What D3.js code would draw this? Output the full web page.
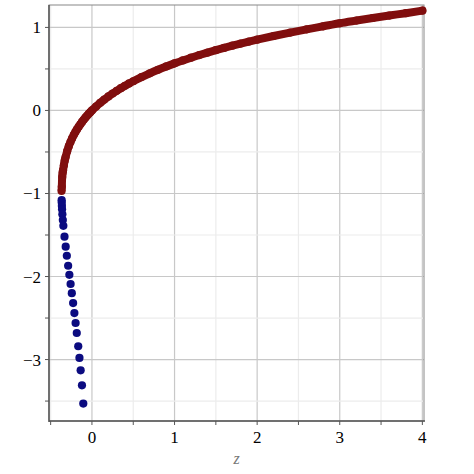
<!DOCTYPE html>
<html><head><meta charset="utf-8">
<script src="https://cdn.jsdelivr.net/npm/d3@7"></script>
<style>body{margin:0;background:#fff} text{font-family:"Liberation Serif","DejaVu Serif","Times New Roman",serif}</style></head>
<body><svg id="chart" width="474" height="474"></svg>
<script>
// principal branch (red)
const redZ = [-0.3679,-0.365,-0.36,-0.355,-0.35,-0.34,-0.33,-0.32,-0.30,-0.28,-0.26,-0.24,-0.22,-0.20,-0.18,-0.16,-0.14,-0.12,-0.10,-0.08,-0.06,-0.04,-0.02,0,0.05,0.1,0.15,0.2,0.25,0.3,0.35,0.4,0.45,0.5,0.6,0.7,0.8,0.9,1.0,1.1,1.2,1.3,1.4,1.5,1.6,1.7,1.8,1.9,2.0,2.2,2.4,2.6,2.8,3.0,3.2,3.4,3.6,3.8,4.0];
const redW = [-0.97,-0.92,-0.8,-0.75,-0.72,-0.66,-0.605,-0.565,-0.49,-0.43,-0.38,-0.335,-0.295,-0.259,-0.226,-0.195,-0.166,-0.138,-0.1118,-0.0875,-0.0643,-0.0418,-0.0204,0,0.0477,0.0913,0.1316,0.1689,0.2039,0.2368,0.2677,0.2972,0.3251,0.3517,0.4015,0.4475,0.4902,0.5302,0.5671,0.6023,0.6355,0.6671,0.6972,0.7259,0.7534,0.7797,0.8050,0.8293,0.8526,0.8968,0.9381,0.9769,1.0134,1.0499,1.0820,1.1132,1.1430,1.1715,1.2022];
// lower branch (blue)
const blueZ = [-0.3667,-0.3658,-0.3641,-0.3620,-0.3581,-0.3526,-0.3462,-0.3324,-0.3181,-0.3041,-0.2882,-0.2734,-0.2585,-0.2438,-0.2280,-0.2127,-0.1979,-0.1838,-0.1659,-0.1514,-0.1368,-0.1208,-0.1049];
const blueW = [-1.08,-1.11,-1.15,-1.19,-1.25,-1.32,-1.39,-1.52,-1.64,-1.75,-1.87,-1.98,-2.09,-2.20,-2.32,-2.44,-2.56,-2.68,-2.84,-2.98,-3.13,-3.31,-3.53];
const xTicks = [0,1,2,3,4];
const yTicks = [-3,-2,-1,0,1];

const L = 49, R = 424, T = 5, B = 421;
const x = d3.scaleLinear().domain([-0.52, 4.02]).range([L, R]);
const y = d3.scaleLinear().domain([-3.74, 1.27]).range([B, T]);
const svg = d3.select("#chart");

// grid
const minorX = d3.range(-0.5, 4.01, 0.5), minorY = d3.range(-3.5, 1.01, 0.5);
svg.append("g").selectAll("line").data(minorX).join("line")
  .attr("x1", d => x(d)).attr("x2", d => x(d)).attr("y1", T).attr("y2", B)
  .attr("stroke", d => Number.isInteger(d) ? "#c8c8c8" : "#ececec").attr("stroke-width", 1.2);
svg.append("g").selectAll("line").data(minorY).join("line")
  .attr("y1", d => y(d)).attr("y2", d => y(d)).attr("x1", L).attr("x2", R)
  .attr("stroke", d => Number.isInteger(d) ? "#c8c8c8" : "#ececec").attr("stroke-width", 1.2);

// frame
svg.append("rect").attr("x", L).attr("y", T).attr("width", R - L).attr("height", B - T)
  .attr("fill", "none").attr("stroke", "#888").attr("stroke-width", 1);
svg.append("line").attr("x1", L).attr("x2", L).attr("y1", T).attr("y2", B + 1).attr("stroke", "#555").attr("stroke-width", 1.5);
svg.append("line").attr("x1", L).attr("x2", R + 1).attr("y1", B).attr("y2", B).attr("stroke", "#555").attr("stroke-width", 1.5);

// ticks
svg.append("g").selectAll("line").data(minorX).join("line")
  .attr("x1", d => x(d)).attr("x2", d => x(d)).attr("y1", B).attr("y2", B + 4).attr("stroke", "#555");
svg.append("g").selectAll("line").data(minorY).join("line")
  .attr("y1", d => y(d)).attr("y2", d => y(d)).attr("x1", L - 4).attr("x2", L).attr("stroke", "#555");

svg.append("g").selectAll("text").data(xTicks).join("text")
  .attr("x", d => x(d)).attr("y", B + 22).attr("text-anchor", "middle")
  .attr("font-size", 17).text(d => d);
svg.append("g").selectAll("text").data(yTicks).join("text")
  .attr("x", L - 8).attr("y", d => y(d) + 6).attr("text-anchor", "end")
  .attr("font-size", 17).text(d => d < 0 ? "\u2212" + (-d) : d);
svg.append("text").attr("x", (L + R) / 2).attr("y", 464).attr("text-anchor", "middle")
  .attr("font-style", "italic").attr("font-size", 16).attr("fill", "#777").text("z");

// data
const red = redZ.map((z, i) => [z, redW[i]]);
const blue = blueZ.map((z, i) => [z, blueW[i]]);
const lineY = d3.line().x(d => x(d[0])).y(d => y(d[1])).curve(d3.curveMonotoneY);
const lineX = d3.line().x(d => x(d[0])).y(d => y(d[1])).curve(d3.curveMonotoneX);
svg.append("path").datum(red.slice(0, 23)).attr("d", lineY)
  .attr("fill", "none").attr("stroke", "#800e0e").attr("stroke-width", 8);
svg.append("path").datum(red.slice(22)).attr("d", lineX)
  .attr("fill", "none").attr("stroke", "#800e0e").attr("stroke-width", 8).attr("stroke-linecap", "round");
svg.append("g").selectAll("circle").data(red).join("circle")
  .attr("cx", d => x(d[0])).attr("cy", d => y(d[1])).attr("r", 4.1).attr("fill", "#800e0e");
svg.append("g").selectAll("circle").data(blue).join("circle")
  .attr("cx", d => x(d[0])).attr("cy", d => y(d[1])).attr("r", 4.1).attr("fill", "#0b0b80");
</script></body></html>
